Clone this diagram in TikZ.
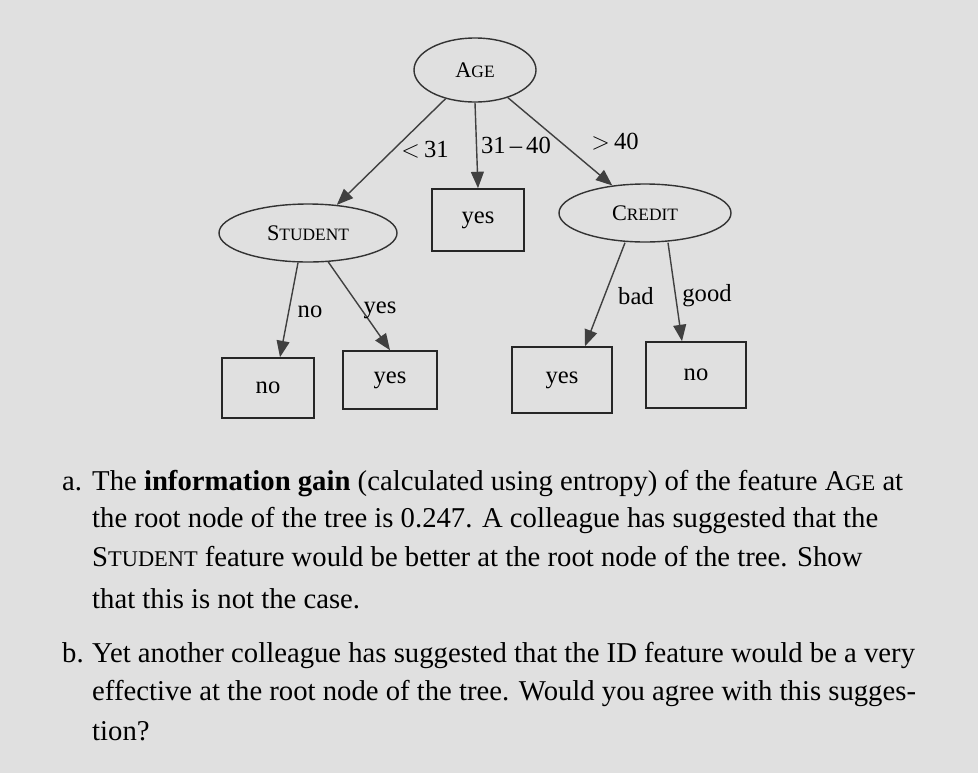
\documentclass[tikz,border=0pt]{standalone}
\usepackage{fontspec}
\setmainfont{Liberation Serif}
\newcommand{\fsc}[2]{#1{\fontsize{0.78em}{1em}\selectfont #2}}
\begin{document}
\begin{tikzpicture}[x=0.03cm,y=-0.03cm,
  ell/.style={draw=black!80,line width=1.2pt,ellipse,inner sep=0pt,font=\fontsize{19}{22}\selectfont},
  box/.style={draw=black!85,line width=1.4pt,rectangle,inner sep=0pt,font=\fontsize{21}{24}\selectfont},
  arr/.style={draw=black!75,line width=1.2pt,-{Triangle[length=14pt,width=11pt]}},
  lab/.style={font=\fontsize{21}{24}\selectfont},
  para/.style={anchor=base west,font=\fontsize{24.5}{28}\selectfont,inner sep=0pt}]
\usetikzlibrary{shapes.geometric,arrows.meta}
\fill[black!12] (0,0) rectangle (978,773);
\useasboundingbox (0,0) rectangle (978,773);
\node[ell,minimum width=122*0.03cm,minimum height=64*0.03cm] (age) at (475,70) {\fsc{A}{GE}};
\node[ell,minimum width=178*0.03cm,minimum height=58*0.03cm] (stu) at (308,233) {\fsc{S}{TUDENT}};
\node[box,minimum width=92*0.03cm,minimum height=62*0.03cm] (y1) at (478,220) {yes};
\node[ell,minimum width=172*0.03cm,minimum height=58*0.03cm] (cre) at (645,213) {\fsc{C}{REDIT}};
\node[box,minimum width=92*0.03cm,minimum height=60*0.03cm] (n1) at (268,388) {no};
\node[box,minimum width=94*0.03cm,minimum height=58*0.03cm] (y2) at (390,380) {yes};
\node[box,minimum width=100*0.03cm,minimum height=66*0.03cm] (y3) at (562,380) {yes};
\node[box,minimum width=100*0.03cm,minimum height=66*0.03cm] (n2) at (696,375) {no};
\draw[arr] (age) -- (stu);
\draw[arr] (age.south) -- (y1.north);
\draw[arr] (age) -- (cre);
\draw[arr] (stu.south -| 298,0) -- (n1.north -| 280,0);
\draw[arr] (stu) -- (y2.north);
\draw[arr] (cre.south -| 625,0) -- (y3.north -| 585,0);
\draw[arr] (cre.south -| 668,0) -- (n2.north -| 682,0);
\node[lab] (l1) at (425,150) {$<$\,31};
\node[lab] (l2) at (516,145) {31\,--\,40};
\node[lab] (l3) at (615,142) {$>$\,40};
\node[lab] (l4) at (310,312) {no};
\node[lab] (l5) at (380,310) {yes};
\node[lab] (l6) at (636,296) {bad};
\node[lab] (l7) at (707,296) {good};
\node[para] (a0) at (62,490) {a.};
\node[para] (a1) at (92,490) {The \textbf{information gain} (calculated using entropy) of the feature \fsc{A}{GE} at};
\node[para] (a2) at (92,527) {the root node of the tree is 0.247. A colleague has suggested that the};
\node[para] (a3) at (92,566) {\fsc{S}{TUDENT} feature would be better at the root node of the tree. Show};
\node[para] (a4) at (92,608) {that this is not the case.};
\node[para] (b0) at (62,662) {b.};
\node[para] (b1) at (92,662) {Yet another colleague has suggested that the ID feature would be a very};
\node[para] (b2) at (92,700) {effective at the root node of the tree. Would you agree with this sugges-};
\node[para] (b3) at (92,740) {tion?};
\end{tikzpicture}
\end{document}
